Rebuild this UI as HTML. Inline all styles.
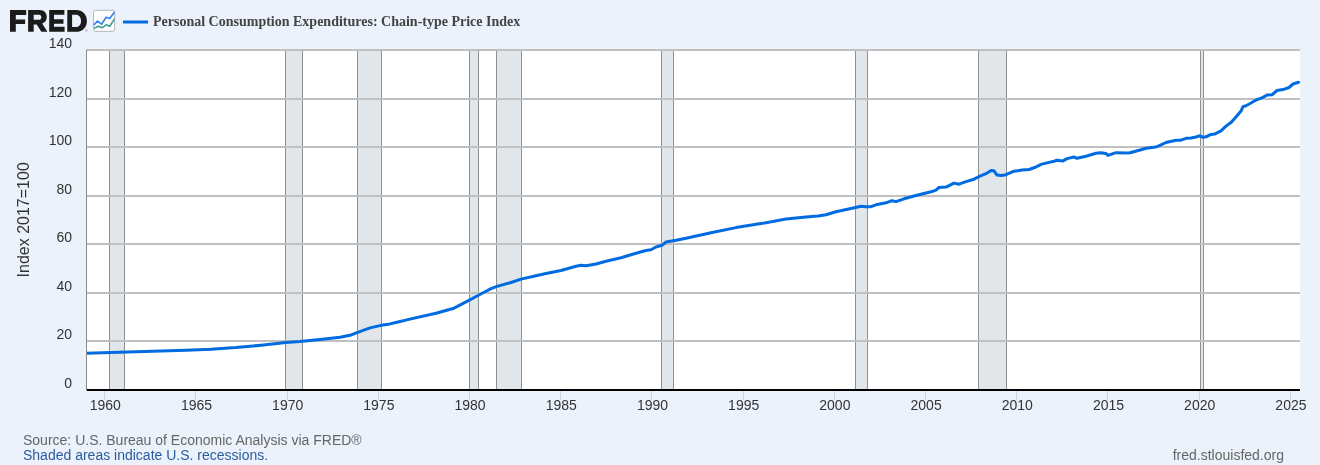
<!DOCTYPE html>
<html><head><meta charset="utf-8"><style>
html,body{margin:0;padding:0;background:#ebf2fb;width:1320px;height:465px;overflow:hidden}
svg{display:block;will-change:transform}
text{font-family:"Liberation Sans",sans-serif}
.ax{font-size:14px;fill:#333}
.yt{font-size:16px;fill:#333}
.tt{font-family:"Liberation Serif",serif;font-weight:bold;font-size:14px;fill:#444}
.src{font-size:14px;fill:#666}
.sh{font-size:14px;fill:#2c5c9c}
</style></head><body>
<svg width="1320" height="465" viewBox="0 0 1320 465">
<rect x="86.0" y="50.0" width="1214.0" height="340.0" fill="#fff"/>
<rect x="109.50" y="50.0" width="15.00" height="340.0" fill="#e1e6eb"/>
<line x1="109.50" y1="50.0" x2="109.50" y2="390.0" stroke="#909090" stroke-width="1"/>
<line x1="124.50" y1="50.0" x2="124.50" y2="390.0" stroke="#909090" stroke-width="1"/>
<rect x="285.50" y="50.0" width="17.00" height="340.0" fill="#e1e6eb"/>
<line x1="285.50" y1="50.0" x2="285.50" y2="390.0" stroke="#909090" stroke-width="1"/>
<line x1="302.50" y1="50.0" x2="302.50" y2="390.0" stroke="#909090" stroke-width="1"/>
<rect x="357.50" y="50.0" width="24.00" height="340.0" fill="#e1e6eb"/>
<line x1="357.50" y1="50.0" x2="357.50" y2="390.0" stroke="#909090" stroke-width="1"/>
<line x1="381.50" y1="50.0" x2="381.50" y2="390.0" stroke="#909090" stroke-width="1"/>
<rect x="469.50" y="50.0" width="9.00" height="340.0" fill="#e1e6eb"/>
<line x1="469.50" y1="50.0" x2="469.50" y2="390.0" stroke="#909090" stroke-width="1"/>
<line x1="478.50" y1="50.0" x2="478.50" y2="390.0" stroke="#909090" stroke-width="1"/>
<rect x="496.50" y="50.0" width="25.00" height="340.0" fill="#e1e6eb"/>
<line x1="496.50" y1="50.0" x2="496.50" y2="390.0" stroke="#909090" stroke-width="1"/>
<line x1="521.50" y1="50.0" x2="521.50" y2="390.0" stroke="#909090" stroke-width="1"/>
<rect x="661.50" y="50.0" width="12.00" height="340.0" fill="#e1e6eb"/>
<line x1="661.50" y1="50.0" x2="661.50" y2="390.0" stroke="#909090" stroke-width="1"/>
<line x1="673.50" y1="50.0" x2="673.50" y2="390.0" stroke="#909090" stroke-width="1"/>
<rect x="855.50" y="50.0" width="12.00" height="340.0" fill="#e1e6eb"/>
<line x1="855.50" y1="50.0" x2="855.50" y2="390.0" stroke="#909090" stroke-width="1"/>
<line x1="867.50" y1="50.0" x2="867.50" y2="390.0" stroke="#909090" stroke-width="1"/>
<rect x="978.50" y="50.0" width="28.00" height="340.0" fill="#e1e6eb"/>
<line x1="978.50" y1="50.0" x2="978.50" y2="390.0" stroke="#909090" stroke-width="1"/>
<line x1="1006.50" y1="50.0" x2="1006.50" y2="390.0" stroke="#909090" stroke-width="1"/>
<rect x="1200.50" y="50.0" width="3.00" height="340.0" fill="#e1e6eb"/>
<line x1="1200.50" y1="50.0" x2="1200.50" y2="390.0" stroke="#909090" stroke-width="1"/>
<line x1="1203.50" y1="50.0" x2="1203.50" y2="390.0" stroke="#909090" stroke-width="1"/>
<line x1="86.0" y1="341.00" x2="1300.0" y2="341.00" stroke="#c0c0c0" stroke-width="2"/>
<line x1="86.0" y1="293.00" x2="1300.0" y2="293.00" stroke="#c0c0c0" stroke-width="2"/>
<line x1="86.0" y1="244.00" x2="1300.0" y2="244.00" stroke="#c0c0c0" stroke-width="2"/>
<line x1="86.0" y1="196.00" x2="1300.0" y2="196.00" stroke="#c0c0c0" stroke-width="2"/>
<line x1="86.0" y1="147.00" x2="1300.0" y2="147.00" stroke="#c0c0c0" stroke-width="2"/>
<line x1="86.0" y1="99.00" x2="1300.0" y2="99.00" stroke="#c0c0c0" stroke-width="2"/>
<line x1="86.0" y1="50.00" x2="1300.0" y2="50.00" stroke="#c0c0c0" stroke-width="2"/>
<defs><clipPath id="pc"><rect x="86" y="45" width="1214" height="346"/></clipPath></defs>
<path clip-path="url(#pc)" d="M86.0,353.3 L111.0,352.5 L136.0,351.7 L161.0,351.0 L186.0,350.2 L211.0,349.3 L236.0,347.6 L261.0,345.2 L286.0,342.5 L300.0,341.5 L320.0,339.6 L340.0,337.3 L350.0,335.3 L357.0,332.6 L370.0,327.9 L380.0,325.6 L390.0,323.9 L398.0,322.0 L411.0,318.9 L436.0,313.3 L454.0,308.2 L468.0,300.8 L478.0,295.5 L486.0,291.2 L491.0,288.6 L497.0,286.4 L511.0,282.5 L521.0,279.1 L536.0,275.7 L546.0,273.5 L561.0,270.5 L576.0,266.2 L581.0,265.3 L586.0,265.8 L596.0,264.0 L606.0,261.2 L621.0,257.7 L636.0,253.2 L646.0,250.5 L651.0,249.8 L656.0,247.0 L662.0,245.3 L666.0,242.0 L676.0,240.3 L686.0,238.2 L711.0,232.7 L736.0,227.6 L761.0,223.6 L786.0,219.1 L796.0,218.1 L806.0,217.1 L818.0,216.1 L826.0,214.8 L836.0,211.7 L851.0,208.5 L861.0,206.2 L866.0,206.7 L871.0,206.7 L876.0,204.8 L886.0,202.8 L892.0,200.7 L896.0,201.6 L904.0,198.8 L916.0,195.5 L926.0,193.0 L933.0,191.2 L936.0,190.2 L939.0,187.4 L946.0,187.1 L954.0,183.1 L959.0,184.2 L966.0,181.6 L974.0,179.2 L980.0,176.2 L986.0,173.7 L991.0,170.6 L994.0,170.8 L997.0,175.1 L1001.0,175.6 L1006.0,174.7 L1014.0,171.2 L1022.0,170.1 L1029.0,169.5 L1036.0,167.0 L1041.0,164.4 L1048.0,162.6 L1054.0,161.2 L1057.0,160.3 L1063.0,160.9 L1067.0,158.6 L1074.0,157.0 L1077.0,158.3 L1086.0,156.2 L1096.0,153.3 L1101.0,152.7 L1106.0,153.6 L1108.0,155.4 L1116.0,152.7 L1126.0,153.1 L1130.0,152.7 L1141.0,149.8 L1146.0,148.2 L1156.0,147.0 L1161.0,144.8 L1166.0,142.5 L1176.0,140.2 L1181.0,140.2 L1186.0,138.3 L1191.0,138.0 L1196.0,137.0 L1200.0,135.8 L1203.0,137.3 L1206.0,136.8 L1211.0,134.4 L1215.0,133.9 L1221.0,130.8 L1226.0,126.1 L1231.0,122.5 L1236.0,116.9 L1241.0,111.1 L1243.0,106.6 L1246.0,105.7 L1251.0,103.0 L1256.0,100.0 L1262.0,97.8 L1267.0,95.1 L1272.0,94.8 L1277.0,90.5 L1283.0,89.6 L1289.0,87.5 L1293.0,84.0 L1298.5,82.3" fill="none" stroke="#006be0" stroke-width="3" stroke-linejoin="round" stroke-linecap="round"/>
<line x1="86.5" y1="50.0" x2="86.5" y2="390.0" stroke="#8a8a8a" stroke-width="1"/>
<line x1="86.8" y1="390.0" x2="1300.0" y2="390.0" stroke="#000" stroke-width="2"/>
<line x1="104.50" y1="391" x2="104.50" y2="400" stroke="#c8d4e6" stroke-width="1"/>
<text x="105.26" y="410" text-anchor="middle" class="ax">1960</text>
<line x1="195.50" y1="391" x2="195.50" y2="400" stroke="#c8d4e6" stroke-width="1"/>
<text x="196.50" y="410" text-anchor="middle" class="ax">1965</text>
<line x1="287.50" y1="391" x2="287.50" y2="400" stroke="#c8d4e6" stroke-width="1"/>
<text x="287.69" y="410" text-anchor="middle" class="ax">1970</text>
<line x1="378.50" y1="391" x2="378.50" y2="400" stroke="#c8d4e6" stroke-width="1"/>
<text x="378.88" y="410" text-anchor="middle" class="ax">1975</text>
<line x1="469.50" y1="391" x2="469.50" y2="400" stroke="#c8d4e6" stroke-width="1"/>
<text x="470.07" y="410" text-anchor="middle" class="ax">1980</text>
<line x1="560.50" y1="391" x2="560.50" y2="400" stroke="#c8d4e6" stroke-width="1"/>
<text x="561.31" y="410" text-anchor="middle" class="ax">1985</text>
<line x1="651.50" y1="391" x2="651.50" y2="400" stroke="#c8d4e6" stroke-width="1"/>
<text x="652.50" y="410" text-anchor="middle" class="ax">1990</text>
<line x1="743.50" y1="391" x2="743.50" y2="400" stroke="#c8d4e6" stroke-width="1"/>
<text x="743.69" y="410" text-anchor="middle" class="ax">1995</text>
<line x1="834.50" y1="391" x2="834.50" y2="400" stroke="#c8d4e6" stroke-width="1"/>
<text x="834.88" y="410" text-anchor="middle" class="ax">2000</text>
<line x1="925.50" y1="391" x2="925.50" y2="400" stroke="#c8d4e6" stroke-width="1"/>
<text x="926.12" y="410" text-anchor="middle" class="ax">2005</text>
<line x1="1016.50" y1="391" x2="1016.50" y2="400" stroke="#c8d4e6" stroke-width="1"/>
<text x="1017.31" y="410" text-anchor="middle" class="ax">2010</text>
<line x1="1107.50" y1="391" x2="1107.50" y2="400" stroke="#c8d4e6" stroke-width="1"/>
<text x="1108.50" y="410" text-anchor="middle" class="ax">2015</text>
<line x1="1199.50" y1="391" x2="1199.50" y2="400" stroke="#c8d4e6" stroke-width="1"/>
<text x="1199.69" y="410" text-anchor="middle" class="ax">2020</text>
<line x1="1290.50" y1="391" x2="1290.50" y2="400" stroke="#c8d4e6" stroke-width="1"/>
<text x="1290.93" y="410" text-anchor="middle" class="ax">2025</text>
<text x="72" y="388.00" text-anchor="end" class="ax">0</text>
<text x="72" y="339.43" text-anchor="end" class="ax">20</text>
<text x="72" y="290.86" text-anchor="end" class="ax">40</text>
<text x="72" y="242.29" text-anchor="end" class="ax">60</text>
<text x="72" y="193.71" text-anchor="end" class="ax">80</text>
<text x="72" y="145.14" text-anchor="end" class="ax">100</text>
<text x="72" y="96.57" text-anchor="end" class="ax">120</text>
<text x="72" y="48.00" text-anchor="end" class="ax">140</text>
<text transform="translate(29.2,219.8) rotate(-90)" text-anchor="middle" class="yt">Index 2017=100</text>
<path fill="#1c1b1c" fill-rule="evenodd" d="M10,10 H26.2 V15 H15.8 V19.5 H25.1 V23.9 H15.8 V31.8 H10 Z M28.1,10 H39.5 C44,10 46.8,12.8 46.8,17 C46.8,20.3 45,22.6 42.2,23.6 L47.4,31.8 H41.3 L36.7,24.4 H33.7 V31.8 H28.1 Z M33.7,14.8 H39.2 C40.6,14.8 41.3,15.8 41.3,17.2 C41.3,18.6 40.6,19.8 39.2,19.8 H33.7 Z M49.2,10 H64.4 V14.8 H54 V19.2 H63.5 V23.7 H54 V26.8 H64.6 V31.8 H49.2 Z M67.3,10 H76 C82.5,10 86.9,14.5 86.9,20.9 C86.9,27.3 82.5,31.8 76,31.8 H67.3 Z M72.1,14.8 H75.8 C79,14.8 81,17.3 81,20.9 C81,24.5 79,27 75.8,27 H72.1 Z"/><circle cx="86.4" cy="30.4" r="1" fill="none" stroke="#999" stroke-width="0.6"/>
<rect x="93.6" y="10.3" width="21" height="21" rx="2" fill="#fff" stroke="#b4b4b4" stroke-width="1"/>
<polyline points="93.9,25 97.5,21.1 101.5,24.2 106.2,17.2 109.6,18.6 114.6,11.9" fill="none" stroke="#3182ee" stroke-width="1.6" stroke-linejoin="round"/>
<polyline points="93.9,28.4 98.4,26.2 102,27.8 106.2,24.8 109.8,26.2 114.6,18.6" fill="none" stroke="#3aa092" stroke-width="1.6" stroke-linejoin="round"/>
<line x1="123" y1="22" x2="148" y2="22" stroke="#006be0" stroke-width="3"/>
<text x="153" y="25.8" class="tt">Personal Consumption Expenditures: Chain-type Price Index</text>
<text x="23" y="444.8" class="src">Source: U.S. Bureau of Economic Analysis via FRED®</text>
<text x="23" y="459.8" class="sh">Shaded areas indicate U.S. recessions.</text>
<text x="1284" y="460.2" text-anchor="end" class="src">fred.stlouisfed.org</text>
</svg>
</body></html>
